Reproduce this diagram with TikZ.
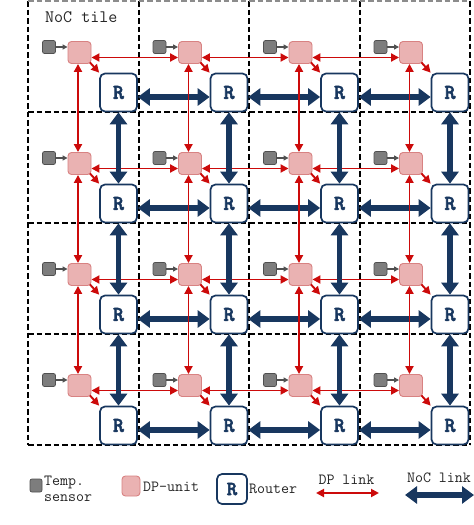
\documentclass[tikz,border=0pt]{standalone}
\usepackage{fontspec}
\newfontfamily\rfont{lmmonolt10-bold.otf}[FakeBold=2.5]
\usetikzlibrary{arrows.meta}
\definecolor{navy}{RGB}{24,55,95}
\definecolor{dpred}{RGB}{204,10,10}
\definecolor{pinkfill}{RGB}{234,178,178}
\definecolor{pinkdraw}{RGB}{216,130,130}
\definecolor{sensfill}{RGB}{125,125,125}
\definecolor{sensdraw}{RGB}{80,80,80}
\tikzset{
  grid/.style={black, line width=2pt, dash pattern=on 5.5pt off 3pt},
  sensor/.style={draw=sensdraw, fill=sensfill, line width=0.7pt, rounded corners=2pt, minimum width=13pt, minimum height=13pt, inner sep=0pt},
  dpunit/.style={draw=pinkdraw, fill=pinkfill, line width=0.9pt, rounded corners=3.5pt, minimum width=23pt, minimum height=22pt, inner sep=0pt},
  router/.style={draw=navy, fill=white, line width=1.7pt, rounded corners=5pt, minimum width=37pt, minimum height=38pt, inner sep=0pt, font=\fontsize{21}{21}\selectfont\rfont, text=navy},
  dplink/.style={dpred, line width=1.9pt, {Triangle[length=8pt,width=8pt]}-{Triangle[length=8pt,width=8pt]}},
  dpone/.style={dpred, line width=1.9pt, -{Triangle[length=8pt,width=8pt]}},
  noclink/.style={navy, line width=5.5pt, {Triangle[length=12pt,width=17pt]}-{Triangle[length=12pt,width=17pt]}},
  sensarrow/.style={sensdraw, line width=1.4pt, -{Triangle[length=5pt,width=5pt]}},
  lbl/.style={font=\fontsize{15.5}{16}\selectfont\ttfamily, inner sep=0pt, text=black!85},
}
\begin{document}
\begin{tikzpicture}[x=1pt,y=-1pt]
\useasboundingbox (0,0) rectangle (474,525);
\fill[white] (0,0) rectangle (474,525);
% tile grid
\foreach \xx in {28,139,249,360,470} {
  \draw[grid] (\xx,1) -- (\xx,445);
}
\foreach \j in {1,...,4} {
  \draw[grid] (28,{1+111*\j}) -- (470,{1+111*\j});
}
\draw[grid, black!45] (28,1) -- (470,1);
\node[anchor=base west, inner sep=0pt, font=\fontsize{17.5}{18}\selectfont\ttfamily, text=black!85] (tile) at (45,22) {NoC tile};
% nodes
\foreach \c in {0,...,3} {
  \foreach \r in {0,...,3} {
    \pgfmathsetmacro\xo{28+110.5*\c}
    \pgfmathsetmacro\yo{1+111*\r}
    \node[sensor] (s\c\r) at (\xo+21,\yo+46) {};
    \node[dpunit] (d\c\r) at (\xo+51.5,\yo+51.5) {};
    \node[router] (r\c\r) at (\xo+90.5,\yo+91.5) {R};
  }
}
% red horizontal DP links
\foreach \c in {0,1,2} {
  \foreach \r in {0,...,3} {
    \pgfmathtruncatemacro\n{\c+1}
    \draw[dplink] ([yshift=-5pt]d\c\r.east) -- ([yshift=-5pt]d\n\r.west);
  }
}
% navy links
\foreach \c in {0,...,3} {
  \foreach \r in {0,1,2} {
    \pgfmathtruncatemacro\n{\r+1}
    \draw[noclink] (r\c\r.south) -- (r\c\n.north);
  }
}
\foreach \c in {0,1,2} {
  \foreach \r in {0,...,3} {
    \pgfmathtruncatemacro\n{\c+1}
    \draw[noclink] ([yshift=-4.5pt]r\c\r.east) -- ([yshift=-4.5pt]r\n\r.west);
  }
}
% red vertical DP links
\foreach \c in {0,...,3} {
  \foreach \r in {0,1,2} {
    \pgfmathtruncatemacro\n{\r+1}
    \draw[dplink] ([xshift=-1.5pt]d\c\r.south) -- ([xshift=-1.5pt]d\c\n.north);
  }
}
% DP to router, sensor to DP
\foreach \c in {0,...,3} {
  \foreach \r in {0,...,3} {
    \draw[dpone] ([shift={(-1.5pt,1.5pt)}]d\c\r.south east) -- (r\c\r.north west);
    \draw[sensarrow] (s\c\r.east) -- (s\c\r.east -| d\c\r.west);
  }
}
% legend
\node[sensor, minimum width=12pt] (ls) at (36,485.5) {};
\node[lbl, anchor=base west] (lt1) at (44,485) {Temp.};
\node[lbl, anchor=base west] (lt2) at (44,501) {sensor};
\node[dpunit, minimum width=18pt, minimum height=20pt] (ld) at (131,486) {};
\node[lbl, anchor=base west] (ldt) at (143,491) {DP-unit};
\node[router, minimum width=30pt, minimum height=30pt, font=\fontsize{20}{20}\selectfont\rfont] (lr) at (232,489) {R};
\node[lbl, anchor=base west] (lrt) at (249,493) {Router};
\node[lbl, anchor=base] (ldp) at (346.5,484) {DP link};
\coordinate (dpa) at (316,493);
\coordinate (dpb) at (379,493);
\draw[dplink] (dpa) -- (dpb);
\node[lbl, anchor=base] (lnoc) at (439,482) {NoC link};
\coordinate (noa) at (405,495);
\coordinate (nob) at (474,495);
\draw[noclink] (noa) -- (nob);
\end{tikzpicture}
\end{document}
